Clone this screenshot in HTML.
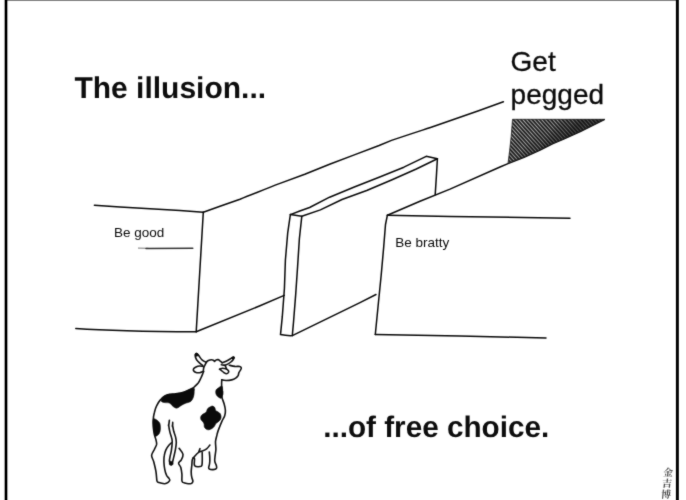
<!DOCTYPE html>
<html>
<head>
<meta charset="utf-8">
<title>The illusion of free choice</title>
<style>
html,body{margin:0;padding:0;background:#fff;}
body{width:686px;height:500px;position:relative;overflow:hidden;font-family:"Liberation Sans",sans-serif;color:#0a0a0a;}
#stage{position:absolute;left:0;top:0;width:686px;height:500px;overflow:hidden;filter:url(#soft);}
#art{position:absolute;left:0;top:0;width:686px;height:500px;}
.t{position:absolute;white-space:nowrap;line-height:1;}
#t3{left:510.6px;top:45px;font-size:28px;-webkit-text-stroke:0.3px #111;line-height:33px;white-space:normal;width:120px;}
#t4{left:114px;top:225.6px;font-size:13.5px;}
#t5{left:395.2px;top:236px;font-size:13.5px;}
#sig{left:661.5px;top:466.5px;font-size:10px;line-height:11px;width:10px;white-space:normal;font-family:"Liberation Sans","Noto Serif CJK SC","Noto Sans CJK SC",serif;font-weight:bold;color:#4a4a4a;word-break:break-all;transform:skewX(-5deg);}
</style>
</head>
<body>
<div id="stage">
<svg id="art" width="686" height="500" viewBox="0 0 686 500">
  <defs>
    <filter id="soft" x="0" y="0" width="686" height="500" filterUnits="userSpaceOnUse" color-interpolation-filters="sRGB"><feConvolveMatrix order="3" kernelMatrix="0.02 0.08 0.02 0.08 0.60 0.08 0.02 0.08 0.02" divisor="1" edgeMode="duplicate" preserveAlpha="false"/></filter>
    <pattern id="hatch" width="2.8" height="4" patternUnits="userSpaceOnUse" patternTransform="rotate(-42)">
      <rect width="2.8" height="4" fill="#262626"/>
      <rect width="0.85" height="4" fill="#bdbdbd"/>
    </pattern>
    <linearGradient id="shade" gradientUnits="userSpaceOnUse" x1="520" y1="122" x2="552" y2="160">
      <stop offset="0" stop-color="#111" stop-opacity="0"/>
      <stop offset="0.45" stop-color="#111" stop-opacity="0.12"/>
      <stop offset="0.8" stop-color="#111" stop-opacity="0.6"/>
    </linearGradient>
  </defs>
  <!-- frame -->
  <g fill="none" stroke="#080808" stroke-width="1.5" stroke-linecap="round" stroke-linejoin="round" id="walls">
    <!-- left box -->
    <path d="M94.4 205.3 L120 207 L150 208.8 L180 210.4 L203.3 212.3"/>
    <path d="M203.3 212.3 Q200.6 262 196.2 331.8"/>
    <path d="M75.8 328.5 Q118 331.5 196.2 331.8"/>
    <path d="M203.3 212.3 L220 206.2 L240 199.2 C255 193.3 268 188 280 183.4 L304.8 174.2 L329.6 164.3 L354.3 154.9 L379.1 145.5 L391.5 140.4 C405 135.8 418 131.6 430.5 127.5 L478.6 110.7 L503.4 101.8"/>
    <path d="M196.2 331.8 L260 305.8 L284.2 295.4"/>
    <path d="M138.4 248.1 L148 248.3" stroke-width="0.8" stroke="#555"/><path d="M146 248.4 L192.8 248.3" stroke-width="1.5" stroke="#333"/>
    <!-- slab -->
    <path d="M290.4 214.6 L299.8 211 L309.6 207.5 L329.6 197.2 L354.3 187 L379.1 177.2 L403.9 167.2 L426.2 156.3 L437.4 158.8"/>
    <path d="M290.4 214.6 L301.8 216.3 L320.4 209.9 L342 199.5 L366.7 190.5 L391.5 180 L416.3 169 L437.4 158.8"/>
    <path d="M290.4 214.6 C289.4 221 288.3 229 287.7 233 L285.4 260 L284.4 288.8 L282.3 316.7 L280.5 334.6 Q286 335.8 292.3 335.6 L293.5 322.3 L295.7 294.4 L297.6 266.5 L299.4 238.5 L301.8 216.3"/>
    <path d="M437.4 158.8 L436.4 176 L435.2 194.6"/>
    <path d="M292.3 335.6 L360 302.6 L376 294.5"/>
    <!-- right box -->
    <path d="M387.4 215.2 L450 216.4 L570 218.3"/>
    <path d="M387.4 215.2 L385.5 224.5 L383.7 247 L381.2 275 L378.4 303 L375.3 334.5"/>
    <path d="M375.3 334.5 L460 336 L546 338"/>
    <path d="M387.4 215.2 L420 201.2 L450 189.1 L500 167 L508 163.6 L524 157.2 L540 150 L552.9 143.6 L564.1 138.8 L580.2 131.5 L596.2 123.5 L604.2 119.6"/>
  </g>
  <path d="M512.5 119.3 L604.2 119.3 L596.2 123.2 L580.2 131.2 L564.1 138.5 L552.9 143.3 L540 149.7 L524 156.9 L508 163.2 Q509.6 152 511.2 136 Z" fill="url(#hatch)" stroke="#222" stroke-width="0.8" stroke-linejoin="round"/>
  <path d="M512.5 119.3 L604.2 119.3 L596.2 123.2 L580.2 131.2 L564.1 138.5 L552.9 143.3 L540 149.7 L524 156.9 L508 163.2 Q509.6 152 511.2 136 Z" fill="url(#shade)"/>
  <g font-family="Liberation Sans, sans-serif" font-weight="bold" fill="#0d0d0d" style="text-rendering:geometricPrecision">
    <text id="s1" x="74.4" y="98" font-size="30">The illusion...</text>
    <text id="s2" x="323.2" y="437" font-size="29.7">...of free choice.</text>
  </g>
  <!-- cow placeholder -->
  <g id="cow">
  <g fill="none" stroke="#111" stroke-width="1.6" stroke-linecap="round" stroke-linejoin="round">
  <path d="M202.6 365.4 C202.1 365.0 200.7 364.0 199.8 363.2 C198.9 362.3 197.8 361.4 197.1 360.4 C196.3 359.4 195.7 358.1 195.4 357.1 C195.1 356.1 195.2 354.9 195.4 354.4 C195.6 353.8 196.3 353.5 196.7 353.6 C197.2 353.6 197.6 354.1 198.2 354.7 C198.7 355.3 199.1 356.2 199.8 357.1 C200.5 358.1 201.5 359.5 202.6 360.4 C203.7 361.3 205.8 362.1 206.4 362.4"/>
  <path d="M203.2 366.4 C202.6 366.4 200.8 365.9 199.6 366.0 C198.4 366.1 197.0 366.5 196.0 367.0 C195.0 367.5 194.0 368.2 193.6 368.8 C193.2 369.5 193.2 370.2 193.6 370.8 C194.0 371.4 195.0 372.1 196.0 372.4 C197.0 372.8 198.5 372.8 199.6 372.7 C200.8 372.6 202.3 371.8 202.8 371.6"/>
  <path d="M206.0 362.2 C206.4 361.9 207.5 360.8 208.4 360.4 C209.4 360.0 210.8 359.8 211.6 359.8 C212.5 359.8 213.2 360.2 213.7 360.4 C214.1 360.7 214.1 361.4 214.5 361.4 C214.8 361.3 215.2 360.4 215.8 360.1 C216.4 359.8 217.3 359.5 218.1 359.6 C218.8 359.8 219.6 360.5 220.3 361.1 C221.0 361.6 221.8 362.5 222.1 362.8"/>
  <path d="M222.1 362.8 C222.7 362.6 224.7 361.9 226.1 361.2 C227.4 360.6 228.9 359.7 230.1 359.0 C231.3 358.3 232.6 357.2 233.3 357.1 C234.0 356.9 234.2 357.4 234.1 357.9 C234.0 358.4 233.4 359.3 232.9 360.0 C232.4 360.7 231.6 361.4 230.9 362.0 C230.2 362.6 229.4 363.1 228.5 363.6 C227.5 364.1 226.5 364.9 225.3 365.1 C224.1 365.3 221.9 364.8 221.3 364.8"/>
  <path d="M219.5 369.2 C219.9 369.1 221.0 368.3 222.1 368.3 C223.1 368.2 224.6 368.5 225.7 368.8 C226.7 369.2 227.9 369.9 228.3 370.4 C228.8 371.0 228.8 371.7 228.5 372.3 C228.2 372.8 227.2 373.7 226.5 373.7 C225.7 373.8 224.9 373.2 224.1 372.7 C223.3 372.2 222.4 371.4 221.7 370.8 C220.9 370.3 219.9 369.5 219.5 369.2"/>
  <path d="M225.1 365.6 C225.3 365.9 225.7 366.7 225.9 367.2 C226.1 367.8 226.4 368.6 226.5 368.8"/>
  <path d="M206.4 362.4 C206.1 362.9 205.2 364.4 204.8 365.4 C204.3 366.3 203.9 367.1 203.7 368.1 C203.4 369.1 203.4 370.9 203.3 371.4"/>
  <path d="M229.3 365.2 C230.2 365.4 233.2 366.1 234.9 366.4 C236.6 366.6 238.6 366.2 239.7 366.5 C240.8 366.8 241.2 367.5 241.3 368.0 C241.4 368.6 240.9 369.3 240.5 370.0 C240.1 370.8 239.3 371.7 238.9 372.6 C238.5 373.5 238.6 374.7 238.1 375.7 C237.6 376.6 236.8 377.4 235.7 378.1 C234.6 378.8 233.3 379.5 231.7 379.9 C230.1 380.3 227.7 380.5 226.1 380.5 C224.4 380.4 222.4 379.9 221.7 379.7"/>
  <path d="M221.8 379.7 C221.8 380.3 221.6 382.0 221.6 383.5 C221.6 385.1 221.7 387.2 221.8 389.0 C222.0 390.9 222.3 394.1 222.4 394.5 C222.5 395.0 222.5 391.2 222.5 391.6 C222.4 392.0 221.6 395.1 221.9 397.1 C222.2 399.1 223.5 401.5 224.1 403.7 C224.7 405.9 225.3 408.3 225.4 410.3 C225.5 412.3 225.3 414.0 224.7 415.8 C224.1 417.7 222.8 419.3 221.9 421.3 C221.0 423.3 220.0 425.7 219.2 427.9 C218.3 430.1 217.3 433.4 217.0 434.5 C216.6 435.7 217.2 433.7 217.0 434.9 C216.7 436.1 215.7 439.1 215.5 441.5 C215.4 443.9 215.9 446.8 215.9 449.2 C215.8 451.6 215.3 453.8 215.1 455.8 C214.9 457.8 214.5 459.7 214.8 461.3 C215.0 463.0 216.1 464.5 216.4 465.7 C216.7 466.9 217.0 467.8 216.4 468.5 C215.9 469.1 214.3 469.5 213.1 469.6 C211.9 469.7 210.0 469.4 209.3 469.0 C208.5 468.7 208.7 468.3 208.7 467.4 C208.8 466.5 209.4 465.1 209.6 463.5 C209.8 462.0 209.9 459.9 209.8 458.0 C209.8 456.1 209.4 453.0 209.3 452.0"/>
  <path d="M203.7 371.4 C203.5 371.9 203.0 373.1 202.6 374.2 C202.1 375.3 201.6 376.6 200.9 378.0 C200.2 379.5 199.4 381.4 198.2 383.0 C197.0 384.5 194.7 386.5 193.8 387.4 C192.8 388.3 194.0 387.5 192.3 388.3 C190.6 389.1 186.3 391.2 183.5 392.2 C180.8 393.1 178.2 393.4 175.8 393.8 C173.4 394.2 171.0 394.0 169.2 394.4 C167.4 394.7 166.3 395.1 164.8 396.0 C163.3 396.9 161.8 398.2 160.4 399.9 C159.0 401.5 157.6 403.8 156.6 405.9 C155.5 408.0 154.9 410.3 154.4 412.5 C153.8 414.7 153.4 416.7 153.3 419.1 C153.1 421.5 153.1 424.3 153.3 426.8 C153.4 429.4 153.9 432.3 154.4 434.5 C154.8 436.7 155.6 438.4 156.0 440.0 C156.4 441.6 156.8 442.8 156.6 444.4 C156.3 446.0 155.2 447.5 154.4 449.4 C153.5 451.2 151.7 453.3 151.6 455.4 C151.5 457.5 153.1 459.3 153.8 462.0 C154.5 464.8 155.5 468.8 156.0 471.9 C156.5 475.0 156.6 479.0 156.9 480.7 C157.2 482.4 157.4 481.9 158.0 482.3 C158.6 482.6 159.3 482.7 160.4 482.9 C161.5 483.2 163.5 483.8 164.8 483.7 C166.1 483.6 167.3 483.0 168.1 482.4 C168.9 481.8 169.7 480.9 169.8 480.2 C169.9 479.4 169.2 478.8 168.7 478.0 C168.1 477.1 167.1 476.6 166.5 475.2 C165.8 473.8 165.2 471.9 164.8 469.7 C164.4 467.5 164.0 464.4 163.9 462.0 C163.8 459.6 163.9 457.4 164.3 455.4 C164.6 453.4 165.2 451.6 165.9 449.9 C166.6 448.3 167.7 446.7 168.7 445.5 C169.6 444.3 171.0 443.2 171.4 442.8"/>
  <path d="M169.4 420.2 C169.3 421.1 168.8 424.9 168.7 425.7 C168.5 426.5 168.5 424.0 168.7 425.0 C168.8 426.0 169.3 429.6 169.8 431.6 C170.2 433.6 171.0 435.5 171.4 437.1 C171.8 438.8 172.2 439.3 172.2 441.5 C172.2 443.7 171.8 447.7 171.4 450.3 C171.0 452.9 170.3 455.1 170.0 456.9 C169.7 458.8 169.3 460.2 169.4 461.3 C169.5 462.5 170.4 463.3 170.5 463.7"/>
  <path d="M172.7 422.4 C172.7 423.2 172.6 426.4 172.5 426.8 C172.5 427.3 172.3 424.2 172.5 425.0 C172.7 425.8 173.3 429.6 173.8 431.6 C174.4 433.6 175.2 435.3 175.6 437.1 C176.0 438.9 176.3 440.6 176.3 442.6 C176.2 444.6 175.9 446.8 175.5 449.2 C175.1 451.6 174.3 454.7 173.8 456.9 C173.3 459.1 172.7 461.5 172.5 462.4"/>
  <path d="M179.1 448.3 C179.8 449.3 182.6 452.4 183.0 454.3 C183.3 456.2 182.1 458.3 181.3 459.8 C180.6 461.3 178.7 461.8 178.6 463.1 C178.5 464.4 180.2 465.7 180.8 467.5 C181.3 469.4 181.7 471.9 181.9 474.1 C182.1 476.3 181.7 479.3 181.9 480.7 C182.1 482.1 182.1 481.9 183.0 482.4 C183.8 482.8 185.4 483.3 186.8 483.5 C188.2 483.7 190.2 483.8 191.2 483.5 C192.2 483.1 192.8 482.3 192.9 481.3 C193.0 480.3 192.1 479.0 191.8 477.4 C191.5 475.9 191.2 473.9 191.2 471.9 C191.2 469.9 191.6 467.3 191.8 465.3 C192.0 463.3 191.9 461.3 192.3 459.8 C192.8 458.3 193.4 457.8 194.5 456.5 C195.6 455.2 197.6 453.0 198.9 452.1 C200.2 451.2 200.9 451.6 202.2 451.0 C203.5 450.5 205.4 449.8 206.6 448.8 C207.9 447.8 209.4 445.6 209.9 445.0"/>
  <path d="M192.9 458.0 C193.2 458.1 194.2 457.3 194.5 458.6 C194.8 459.9 193.6 464.4 194.7 465.7 C195.8 467.0 199.9 466.8 201.1 466.3 C202.4 465.7 202.0 464.7 202.2 462.4 C202.4 460.1 202.2 454.2 202.2 452.5"/>
  <path d="M198.9 451.4 C199.1 451.0 199.8 449.1 200.0 448.7"/>
  </g>
  <g fill="#0a0a0a" stroke="#0a0a0a" stroke-width="0.6" stroke-linejoin="round">
  <path d="M195.2 354.5 C195.3 354.0 196.0 353.2 196.5 353.1 C197.0 353.1 197.9 353.8 198.1 354.2 C198.2 354.7 198.0 355.7 197.6 356.0 C197.3 356.3 196.4 356.5 196.0 356.2 C195.6 356.0 195.1 355.0 195.2 354.5Z"/>
  <path d="M231.7 357.9 C231.9 357.5 233.0 356.8 233.5 356.7 C233.9 356.7 234.3 357.3 234.3 357.7 C234.3 358.1 233.8 358.8 233.5 359.0 C233.1 359.2 232.5 359.2 232.2 359.0 C231.9 358.8 231.5 358.2 231.7 357.9Z"/>
  <path d="M169.8 461.3 C170.3 460.9 172.0 461.4 172.5 461.9 C173.1 462.3 173.2 463.5 173.1 464.1 C172.9 464.7 172.0 465.4 171.4 465.5 C170.8 465.6 169.7 465.3 169.4 464.6 C169.2 463.9 169.3 461.8 169.8 461.3Z"/>
  <path d="M161.5 399.3 C162.1 398.4 163.5 396.8 164.8 396.0 C166.1 395.2 167.4 394.7 169.2 394.4 C171.0 394.0 173.4 394.2 175.8 393.8 C178.2 393.4 180.6 393.1 183.5 392.2 C186.5 391.2 191.6 388.4 193.4 388.3 C195.2 388.2 194.2 390.1 194.2 391.6 C194.2 393.1 194.0 395.5 193.4 397.1 C192.8 398.8 192.0 400.5 190.7 401.5 C189.4 402.5 187.3 402.5 185.7 403.2 C184.2 403.8 182.8 404.5 181.3 405.4 C179.9 406.2 178.3 407.9 176.9 408.1 C175.5 408.3 174.3 407.3 173.1 406.5 C171.9 405.6 171.1 403.8 169.8 403.2 C168.4 402.5 166.2 402.9 164.8 402.6 C163.4 402.3 162.1 402.1 161.5 401.5 C161.0 401.0 161.0 400.2 161.5 399.3Z"/>
  <path d="M153.3 419.1 C153.9 418.0 156.0 419.5 157.1 420.2 C158.2 421.0 159.3 422.1 159.9 423.5 C160.4 425.0 160.5 427.4 160.4 429.0 C160.3 430.7 160.0 432.2 159.3 433.4 C158.6 434.6 156.8 436.0 156.0 436.2 C155.2 436.4 154.8 436.1 154.4 434.5 C153.9 433.0 153.4 429.4 153.3 426.8 C153.1 424.3 152.6 420.2 153.3 419.1Z"/>
  <path d="M210.4 406.8 C211.2 406.4 211.8 406.0 212.6 406.1 C213.3 406.3 214.3 406.9 214.8 407.6 C215.3 408.3 215.0 409.6 215.5 410.3 C216.1 411.0 217.3 411.4 218.1 412.0 C218.9 412.6 219.8 413.0 220.3 413.8 C220.8 414.7 221.1 415.9 221.1 416.9 C221.1 417.9 220.8 418.8 220.3 419.7 C219.8 420.5 218.8 421.2 218.1 421.9 C217.3 422.5 216.5 422.8 215.9 423.5 C215.3 424.3 215.1 425.4 214.4 426.3 C213.8 427.1 213.0 427.9 212.0 428.5 C211.1 429.1 209.7 429.7 208.7 429.8 C207.7 429.9 206.7 429.5 206.0 429.0 C205.2 428.5 204.6 427.6 204.3 426.8 C204.0 426.0 204.3 424.9 204.1 424.1 C203.9 423.2 203.5 422.6 203.0 421.9 C202.5 421.1 201.4 420.5 201.0 419.7 C200.6 418.8 200.5 417.7 200.7 416.9 C200.9 416.1 201.4 415.4 202.1 414.7 C202.8 414.1 204.1 413.6 204.9 413.1 C205.6 412.5 206.1 412.1 206.5 411.4 C207.0 410.7 207.0 409.4 207.6 408.7 C208.3 407.9 209.5 407.2 210.4 406.8Z"/>
  <path d="M221.9 386.1 C221.2 385.5 219.6 387.0 218.6 387.8 C217.6 388.5 216.2 389.3 215.9 390.5 C215.5 391.7 215.7 393.6 216.4 394.9 C217.1 396.2 219.3 397.8 220.3 398.2 C221.2 398.6 221.7 398.2 222.1 397.1 C222.5 396.0 222.7 393.4 222.7 391.6 C222.7 389.8 222.6 386.7 221.9 386.1Z"/>
  </g>
  </g>
</svg>
<div class="t" id="t3">Get<br>pegged</div>
<div class="t" id="t4">Be good</div>
<div class="t" id="t5">Be bratty</div>
<div class="t" id="sig">金吉博</div>
</div>
<svg id="frame" width="686" height="500" viewBox="0 0 686 500" style="position:absolute;left:0;top:0">
  <rect x="6" y="0" width="671" height="1" fill="#8e8e8e"/>
  <rect x="6" y="1" width="671" height="1" fill="#f1f1f1"/>
  <rect x="3.6" y="0" width="4.8" height="500" fill="#000" opacity="0.12"/>
  <rect x="4.7" y="0" width="2.6" height="500" fill="#050505"/>
  <rect x="675.3" y="0" width="4" height="500" fill="#000" opacity="0.28"/>
  <rect x="676.1" y="0" width="2.6" height="500" fill="#080808"/>
</svg>
</body>
</html>
